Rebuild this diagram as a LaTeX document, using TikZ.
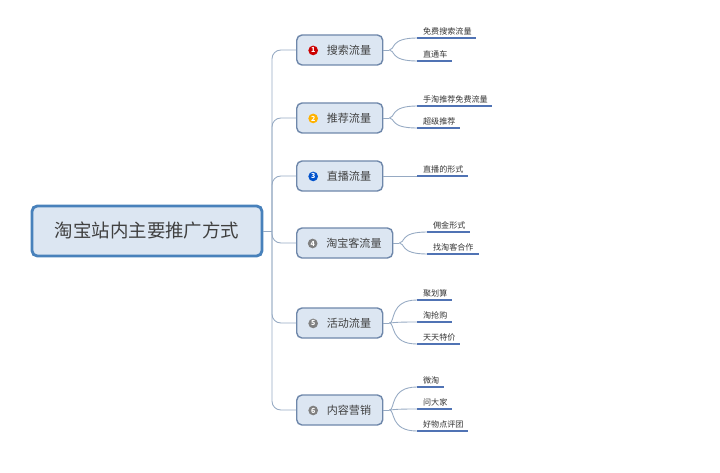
\documentclass[tikz,border=0pt]{standalone}
\usepackage{fontspec}
\usetikzlibrary{calc}
\setmainfont{Noto Sans CJK SC}
\definecolor{bd}{RGB}{110,135,170}
\definecolor{fl}{RGB}{220,230,242}
\definecolor{ul}{RGB}{80,115,180}
\definecolor{cn}{RGB}{150,170,195}
\begin{document}
\begin{tikzpicture}[x=0.02cm,y=-0.02cm,
  rootbox/.style={draw=ul!90!cyan,line width=1.6pt,fill=fl,rounded corners=3pt,minimum width=230*0.02cm,minimum height=50*0.02cm,font=\fontsize{10.5}{12}\selectfont,text=black!75},
  branch/.style={draw=bd,line width=0.8pt,fill=fl,rounded corners=3pt,minimum height=30*0.02cm,font=\fontsize{6.3}{8}\selectfont,text=black!75,inner sep=2pt},
  num/.style={circle,fill=#1,text=white,inner sep=0pt,minimum size=5.5pt,font=\fontsize{4}{4}\bfseries\selectfont},
  leaf/.style={font=\fontsize{4.6}{6}\selectfont,text=black!80,anchor=south west,inner sep=1pt},
  uline/.style={draw=ul,line width=1.1pt},
  conn/.style={draw=cn,line width=0.5pt}]
\useasboundingbox (0,0) rectangle (720,473);
\node[rootbox] (root) at (147,231) {淘宝站内主要推广方式};
\coordinate (t) at (272,231);
\draw[conn] (root.east) -- (t);
\foreach \i/\y/\w/\txt/\c in {1/50/86/搜索流量/red!80!black,2/118/86/推荐流量/orange!60!yellow,3/176/86/直播流量/blue!60!cyan!80!black,4/243/96/淘宝客流量/gray,5/323/86/活动流量/gray,6/410/86/内容营销/gray}{
  \node[branch,minimum width=\w*0.02cm,anchor=west] (b\i) at (296,\y) {\tikz[baseline=-0.6ex]\node[num=\c]{\i};\hspace{5pt}\txt};
  \draw[conn,rounded corners=5pt] (t) -- (272,\y) -- (b\i.west);
}
\newcommand\leafat[6]{%
  \coordinate (#1s) at (#4,#3);
  \coordinate (#1e) at (#5,#3);
  \draw[uline] (#1s) -- (#1e);
  \node[leaf] (#1) at (#4+4,#3-1) {#6};
}
\leafat{l11}{}{38}{417}{476}{免费搜索流量}
\leafat{l12}{}{61}{417}{452}{直通车}
\leafat{l21}{}{106}{417}{492}{手淘推荐免费流量}
\leafat{l22}{}{128}{417}{460}{超级推荐}
\leafat{l31}{}{176}{417}{468}{直播的形式}
\leafat{l41}{}{232}{427}{470}{佣金形式}
\leafat{l42}{}{254}{427}{479}{找淘客合作}
\leafat{l51}{}{300}{417}{452}{聚划算}
\leafat{l52}{}{322}{417}{452}{淘抢购}
\leafat{l53}{}{344}{417}{460}{天天特价}
\leafat{l61}{}{387}{417}{444}{微淘}
\leafat{l62}{}{409}{417}{452}{问大家}
\leafat{l63}{}{431}{417}{468}{好物点评团}
\foreach \b/\ls in {1/{l11,l12},2/{l21,l22},4/{l41,l42},5/{l51,l52,l53},6/{l61,l62,l63}}{
  \draw[conn] (b\b.east) -- ++(6,0) coordinate (f\b);
  \foreach \l in \ls {\draw[conn] (f\b) .. controls ($(f\b)+(6,0)$) and ($(f\b|-\l s)+(0,0)$) .. ($(\l s)+(0,0)$);}
}
\draw[conn] (b3.east) -- (l31s);
\end{tikzpicture}
\end{document}
